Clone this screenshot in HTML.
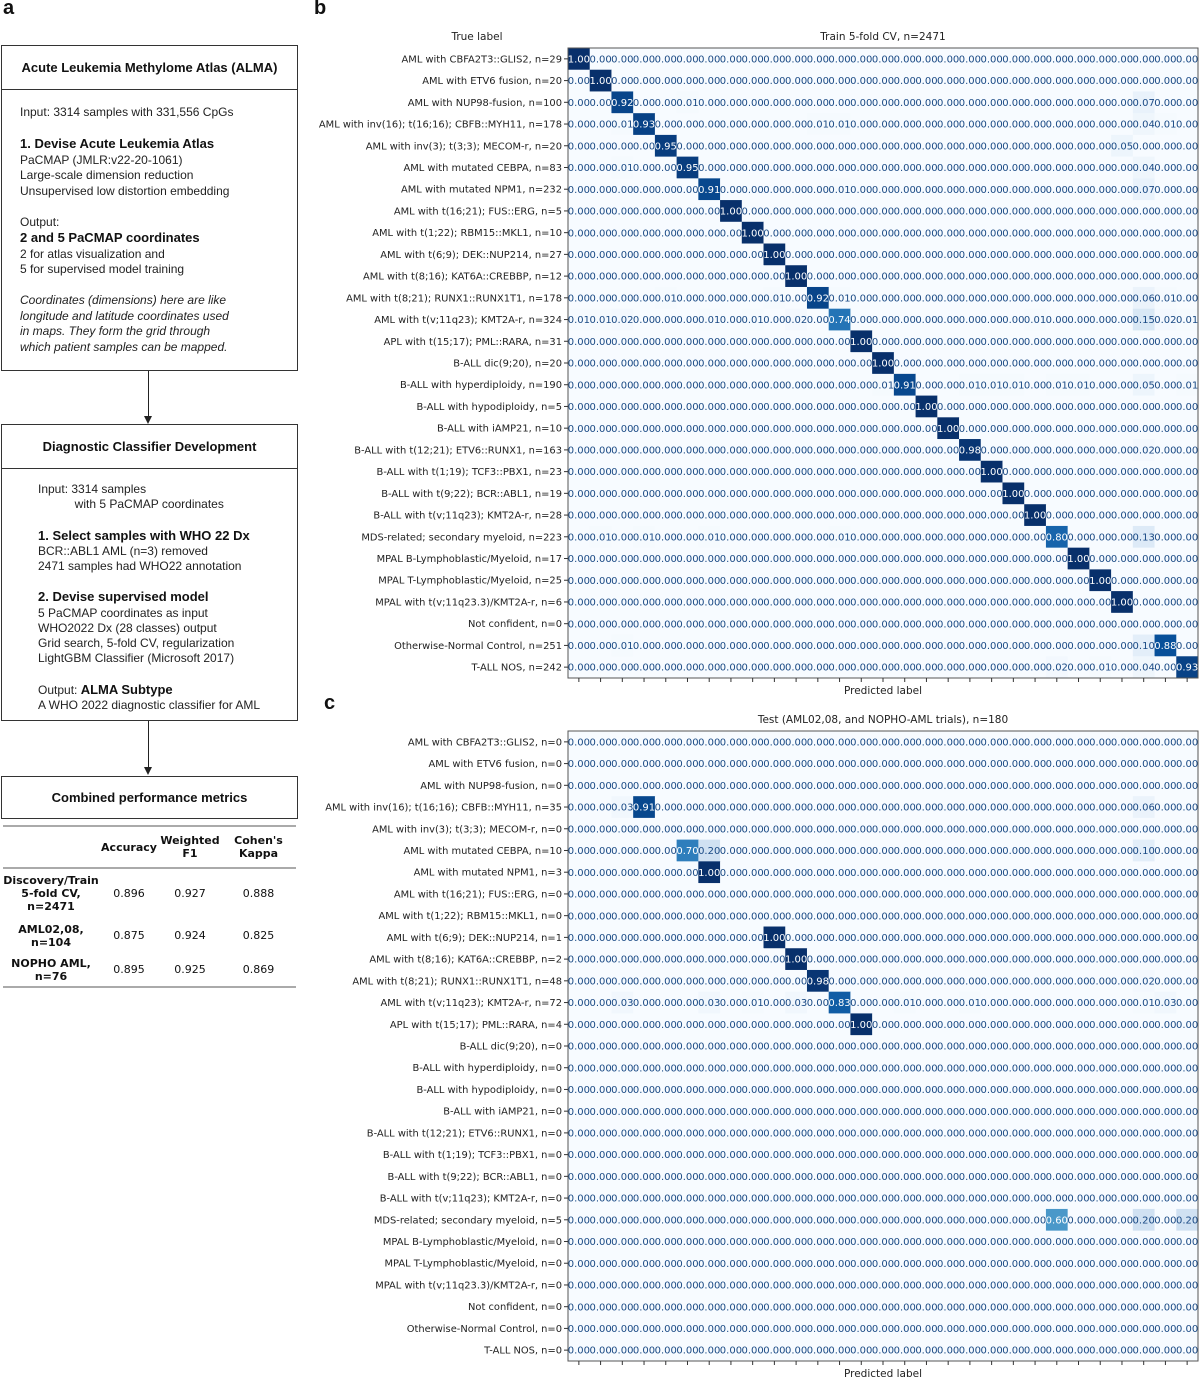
<!DOCTYPE html>
<html><head><meta charset="utf-8">
<style>
body{margin:0;width:1200px;height:1381px;background:#fff;position:relative;overflow:hidden;font-family:"Liberation Sans",Arial,sans-serif;color:#111}
.abs{position:absolute}
.box{position:absolute;border:1px solid #333;box-sizing:border-box}
.hdr{position:absolute;left:0;right:0;border-bottom:1px solid #333;font-weight:bold;font-size:13px;text-align:center}
.txt{position:absolute;font-size:12px;line-height:15.5px;color:#222}
.txt b{font-size:13px;color:#111}
.arrow{position:absolute;width:1px;background:#222}
.arrowhead{position:absolute;width:0;height:0;border-left:4px solid transparent;border-right:4px solid transparent;border-top:8px solid #222}
table{border-collapse:collapse;font-family:"DejaVu Sans",sans-serif;font-size:11px}
td{padding:0;overflow:visible;white-space:nowrap}
</style></head>
<body>
<div class="abs" style="left:3px;top:-3px;font-size:20px;font-weight:bold">a</div>
<div class="abs" style="left:314px;top:-3px;font-size:20px;font-weight:bold">b</div>
<div class="abs" style="left:324px;top:692px;font-size:20px;font-weight:bold">c</div>

<div class="box" style="left:1px;top:45px;width:297px;height:326px">
  <div class="hdr" style="top:0;height:43px;line-height:43px">Acute Leukemia Methylome Atlas (ALMA)</div>
  <div class="txt" style="left:18px;top:59px">Input: 3314 samples with 331,556 CpGs<br><br><b>1. Devise Acute Leukemia Atlas</b><br>PaCMAP (JMLR:v22-20-1061)<br>Large-scale dimension reduction<br>Unsupervised low distortion embedding<br><br>Output:<br><b>2 and 5 PaCMAP coordinates</b><br>2 for atlas visualization and<br>5 for supervised model training<br><br><i>Coordinates (dimensions) here are like<br>longitude and latitude coordinates used<br>in maps. They form the grid through<br>which patient samples can be mapped.</i></div>
</div>
<div class="arrow" style="left:148px;top:371px;height:45px"></div><div class="arrowhead" style="left:144px;top:416px"></div>

<div class="box" style="left:1px;top:424px;width:297px;height:297px">
  <div class="hdr" style="top:0;height:43px;line-height:43px">Diagnostic Classifier Development</div>
  <div class="txt" style="left:36px;top:57px;font-size:12px;line-height:15.2px">Input: 3314 samples<br>&nbsp;&nbsp;&nbsp;&nbsp;&nbsp;&nbsp;&nbsp;&nbsp;&nbsp;&nbsp;&nbsp;with 5 PaCMAP coordinates<br><br><b>1. Select samples with WHO 22 Dx</b><br>BCR::ABL1 AML (n=3) removed<br>2471 samples had WHO22 annotation<br><br><b>2. Devise supervised model</b><br>5 PaCMAP coordinates as input<br>WHO2022 Dx (28 classes) output<br>Grid search, 5-fold CV, regularization<br>LightGBM Classifier (Microsoft 2017)<br><br>Output: <b>ALMA Subtype</b><br>A WHO 2022 diagnostic classifier for AML</div>
</div>
<div class="arrow" style="left:148px;top:721px;height:47px"></div><div class="arrowhead" style="left:144px;top:767px"></div>

<div class="box" style="left:1px;top:776px;width:297px;height:43px">
  <div class="hdr" style="top:0;height:41px;line-height:41px;border:none">Combined performance metrics</div>
</div>
<div class="abs" style="left:3px;top:825px;width:293px">
<table style="width:293px;table-layout:fixed">
<tr style="border-top:2px solid #aaa;border-bottom:2px solid #aaa;font-weight:bold;height:42px;text-align:center"><td style="width:96px"></td><td style="width:60px">Accuracy</td><td style="width:62px">Weighted<br>F1</td><td style="width:75px">Cohen's<br>Kappa</td></tr>
<tr style="text-align:center;height:50px"><td style="font-weight:bold">Discovery/Train<br>5-fold CV,<br>n=2471</td><td>0.896</td><td>0.927</td><td>0.888</td></tr>
<tr style="text-align:center;height:35px"><td style="font-weight:bold">AML02,08,<br>n=104</td><td>0.875</td><td>0.924</td><td>0.825</td></tr>
<tr style="text-align:center;height:34px;border-bottom:2px solid #aaa"><td style="font-weight:bold">NOPHO AML,<br>n=76</td><td>0.895</td><td>0.925</td><td>0.869</td></tr>
</table></div>

<svg id="chart" width="1200" height="1381" style="position:absolute;left:0;top:0" xmlns="http://www.w3.org/2000/svg"></svg>

<script>
const classNames = ["AML with CBFA2T3::GLIS2","AML with ETV6 fusion","AML with NUP98-fusion","AML with inv(16); t(16;16); CBFB::MYH11","AML with inv(3); t(3;3); MECOM-r","AML with mutated CEBPA","AML with mutated NPM1","AML with t(16;21); FUS::ERG","AML with t(1;22); RBM15::MKL1","AML with t(6;9); DEK::NUP214","AML with t(8;16); KAT6A::CREBBP","AML with t(8;21); RUNX1::RUNX1T1","AML with t(v;11q23); KMT2A-r","APL with t(15;17); PML::RARA","B-ALL dic(9;20)","B-ALL with hyperdiploidy","B-ALL with hypodiploidy","B-ALL with iAMP21","B-ALL with t(12;21); ETV6::RUNX1","B-ALL with t(1;19); TCF3::PBX1","B-ALL with t(9;22); BCR::ABL1","B-ALL with t(v;11q23); KMT2A-r","MDS-related; secondary myeloid","MPAL B-Lymphoblastic/Myeloid","MPAL T-Lymphoblastic/Myeloid","MPAL with t(v;11q23.3)/KMT2A-r","Not confident","Otherwise-Normal Control","T-ALL NOS"];
const trainCounts = [29,20,100,178,20,83,232,5,10,27,12,178,324,31,20,190,5,10,163,23,19,28,223,17,25,6,0,251,242];
const testCounts = [0,0,0,35,0,10,3,0,0,1,2,48,72,4,0,0,0,0,0,0,0,0,5,0,0,0,0,0,0];
// sparse non-zero cells: [row, col, value]
const trainCells = [[0,0,1.00],[1,1,1.00],[2,2,0.92],[2,5,0.01],[2,26,0.07],[3,2,0.01],[3,3,0.93],[3,11,0.01],[3,12,0.01],[3,26,0.04],[3,27,0.01],[4,4,0.95],[4,25,0.05],[5,2,0.01],[5,5,0.95],[5,26,0.04],[6,6,0.91],[6,12,0.01],[6,26,0.07],[7,7,1.00],[8,8,1.00],[9,9,1.00],[10,10,1.00],[11,4,0.01],[11,9,0.01],[11,11,0.92],[11,12,0.01],[11,26,0.06],[11,27,0.01],[12,0,0.01],[12,1,0.01],[12,2,0.02],[12,6,0.01],[12,8,0.01],[12,10,0.02],[12,12,0.74],[12,21,0.01],[12,26,0.15],[12,27,0.02],[12,28,0.01],[13,13,1.00],[14,14,1.00],[15,14,0.01],[15,15,0.91],[15,18,0.01],[15,19,0.01],[15,20,0.01],[15,22,0.01],[15,23,0.01],[15,26,0.05],[15,28,0.01],[16,16,1.00],[17,17,1.00],[18,18,0.98],[18,26,0.02],[19,19,1.00],[20,20,1.00],[21,21,1.00],[22,1,0.01],[22,3,0.01],[22,6,0.01],[22,12,0.01],[22,22,0.80],[22,26,0.13],[23,23,1.00],[24,24,1.00],[25,25,1.00],[27,2,0.01],[27,26,0.10],[27,27,0.88],[28,22,0.02],[28,24,0.01],[28,26,0.04],[28,28,0.93]];
const testCells = [[3,2,0.03],[3,3,0.91],[3,26,0.06],[5,5,0.70],[5,6,0.20],[5,26,0.10],[6,6,1.00],[9,9,1.00],[10,10,1.00],[11,11,0.98],[11,26,0.02],[12,2,0.03],[12,6,0.03],[12,8,0.01],[12,10,0.03],[12,12,0.83],[12,15,0.01],[12,18,0.01],[12,26,0.01],[12,27,0.03],[13,13,1.00],[22,22,0.60],[22,26,0.20],[22,28,0.20]];

const NS="http://www.w3.org/2000/svg";
const svg=document.getElementById('chart');
const blues=["#f7fbff","#deebf7","#c6dbef","#9ecae1","#6baed6","#4292c6","#2171b5","#08519c","#08306b"];
function hex(h){return [1,3,5].map(i=>parseInt(h.substr(i,2),16));}
function cmap(v){const t=Math.max(0,Math.min(1,v))*8;const i=Math.min(7,Math.floor(t));const f=t-i;const a=hex(blues[i]),b=hex(blues[i+1]);return 'rgb('+a.map((x,k)=>Math.round(x+(b[k]-x)*f)).join(',')+')';}
function mk(tag,attrs,parent){const e=document.createElementNS(NS,tag);for(const k in attrs)e.setAttribute(k,attrs[k]);(parent||svg).appendChild(e);return e;}

function drawMatrix(opt,cells,counts){
  const n=classNames.length, x0=568, x1=1198, y0=opt.y0, cs=(x1-x0)/n;
  const xs=c=>x0+c*cs, ys=r=>y0+r*cs;
  const g=mk('g',{});
  
  
  const M=[];for(let r=0;r<n;r++){M.push(new Array(n).fill(0));}
  cells.forEach(([r,c,v])=>{M[r][c]=v;});
  for(let r=0;r<n;r++)for(let c=0;c<n;c++){
    const rc=mk('rect',{x:xs(c),y:ys(r),width:cs+0.4,height:cs+0.4,fill:cmap(M[r][c])},g);
    
    
  }
  for(let r=0;r<n;r++)for(let c=0;c<n;c++){
    const v=M[r][c];
    const t=mk('text',{x:xs(c)+cs/2,y:ys(r)+cs/2+3.6,'text-anchor':'middle','font-family':'DejaVu Sans, sans-serif','font-size':'10',fill:v>0.5?'#ffffff':'#1a4a85'},g);
    t.textContent=v.toFixed(2);
    
    
  }
  mk('rect',{x:x0,y:y0,width:x1-x0,height:n*cs,fill:'none',stroke:'#555','stroke-width':1},g);
  for(let r=0;r<n;r++){
    mk('line',{x1:x0-4,x2:x0,y1:ys(r)+cs/2,y2:ys(r)+cs/2,stroke:'#333'},g);
    const t=mk('text',{x:x0-6,y:ys(r)+cs/2+3.5,'text-anchor':'end','font-family':'DejaVu Sans, sans-serif','font-size':'9.9',fill:'#222'},g);
    t.textContent=classNames[r]+', n='+counts[r];
    
    
  }
  for(let c=0;c<n;c++){mk('line',{x1:xs(c)+cs/2,x2:xs(c)+cs/2,y1:y0+n*cs,y2:y0+n*cs+4,stroke:'#333'},g);}
  const ti=mk('text',{x:(x0+x1)/2,y:y0-8,'text-anchor':'middle','font-family':'DejaVu Sans, sans-serif','font-size':'10.5',fill:'#222'},g);
  ti.textContent=opt.title;
  
  
  const xl=mk('text',{x:(x0+x1)/2,y:y0+n*cs+16,'text-anchor':'middle','font-family':'DejaVu Sans, sans-serif','font-size':'10.5',fill:'#222'},g);
  xl.textContent='Predicted label';
  
  
  if(opt.trueLabel){
    const yl=mk('text',{x:477,y:y0-8,'text-anchor':'middle','font-family':'DejaVu Sans, sans-serif','font-size':'10.5',fill:'#222'},g);
    yl.textContent='True label';
    
    
  }
}
drawMatrix({y0:48,title:'Train 5-fold CV, n=2471',name:'train-confusion-matrix',trueLabel:true},trainCells,trainCounts);
drawMatrix({y0:731,title:'Test (AML02,08, and NOPHO-AML trials), n=180',name:'test-confusion-matrix',trueLabel:false},testCells,testCounts);
</script>
</body></html>
